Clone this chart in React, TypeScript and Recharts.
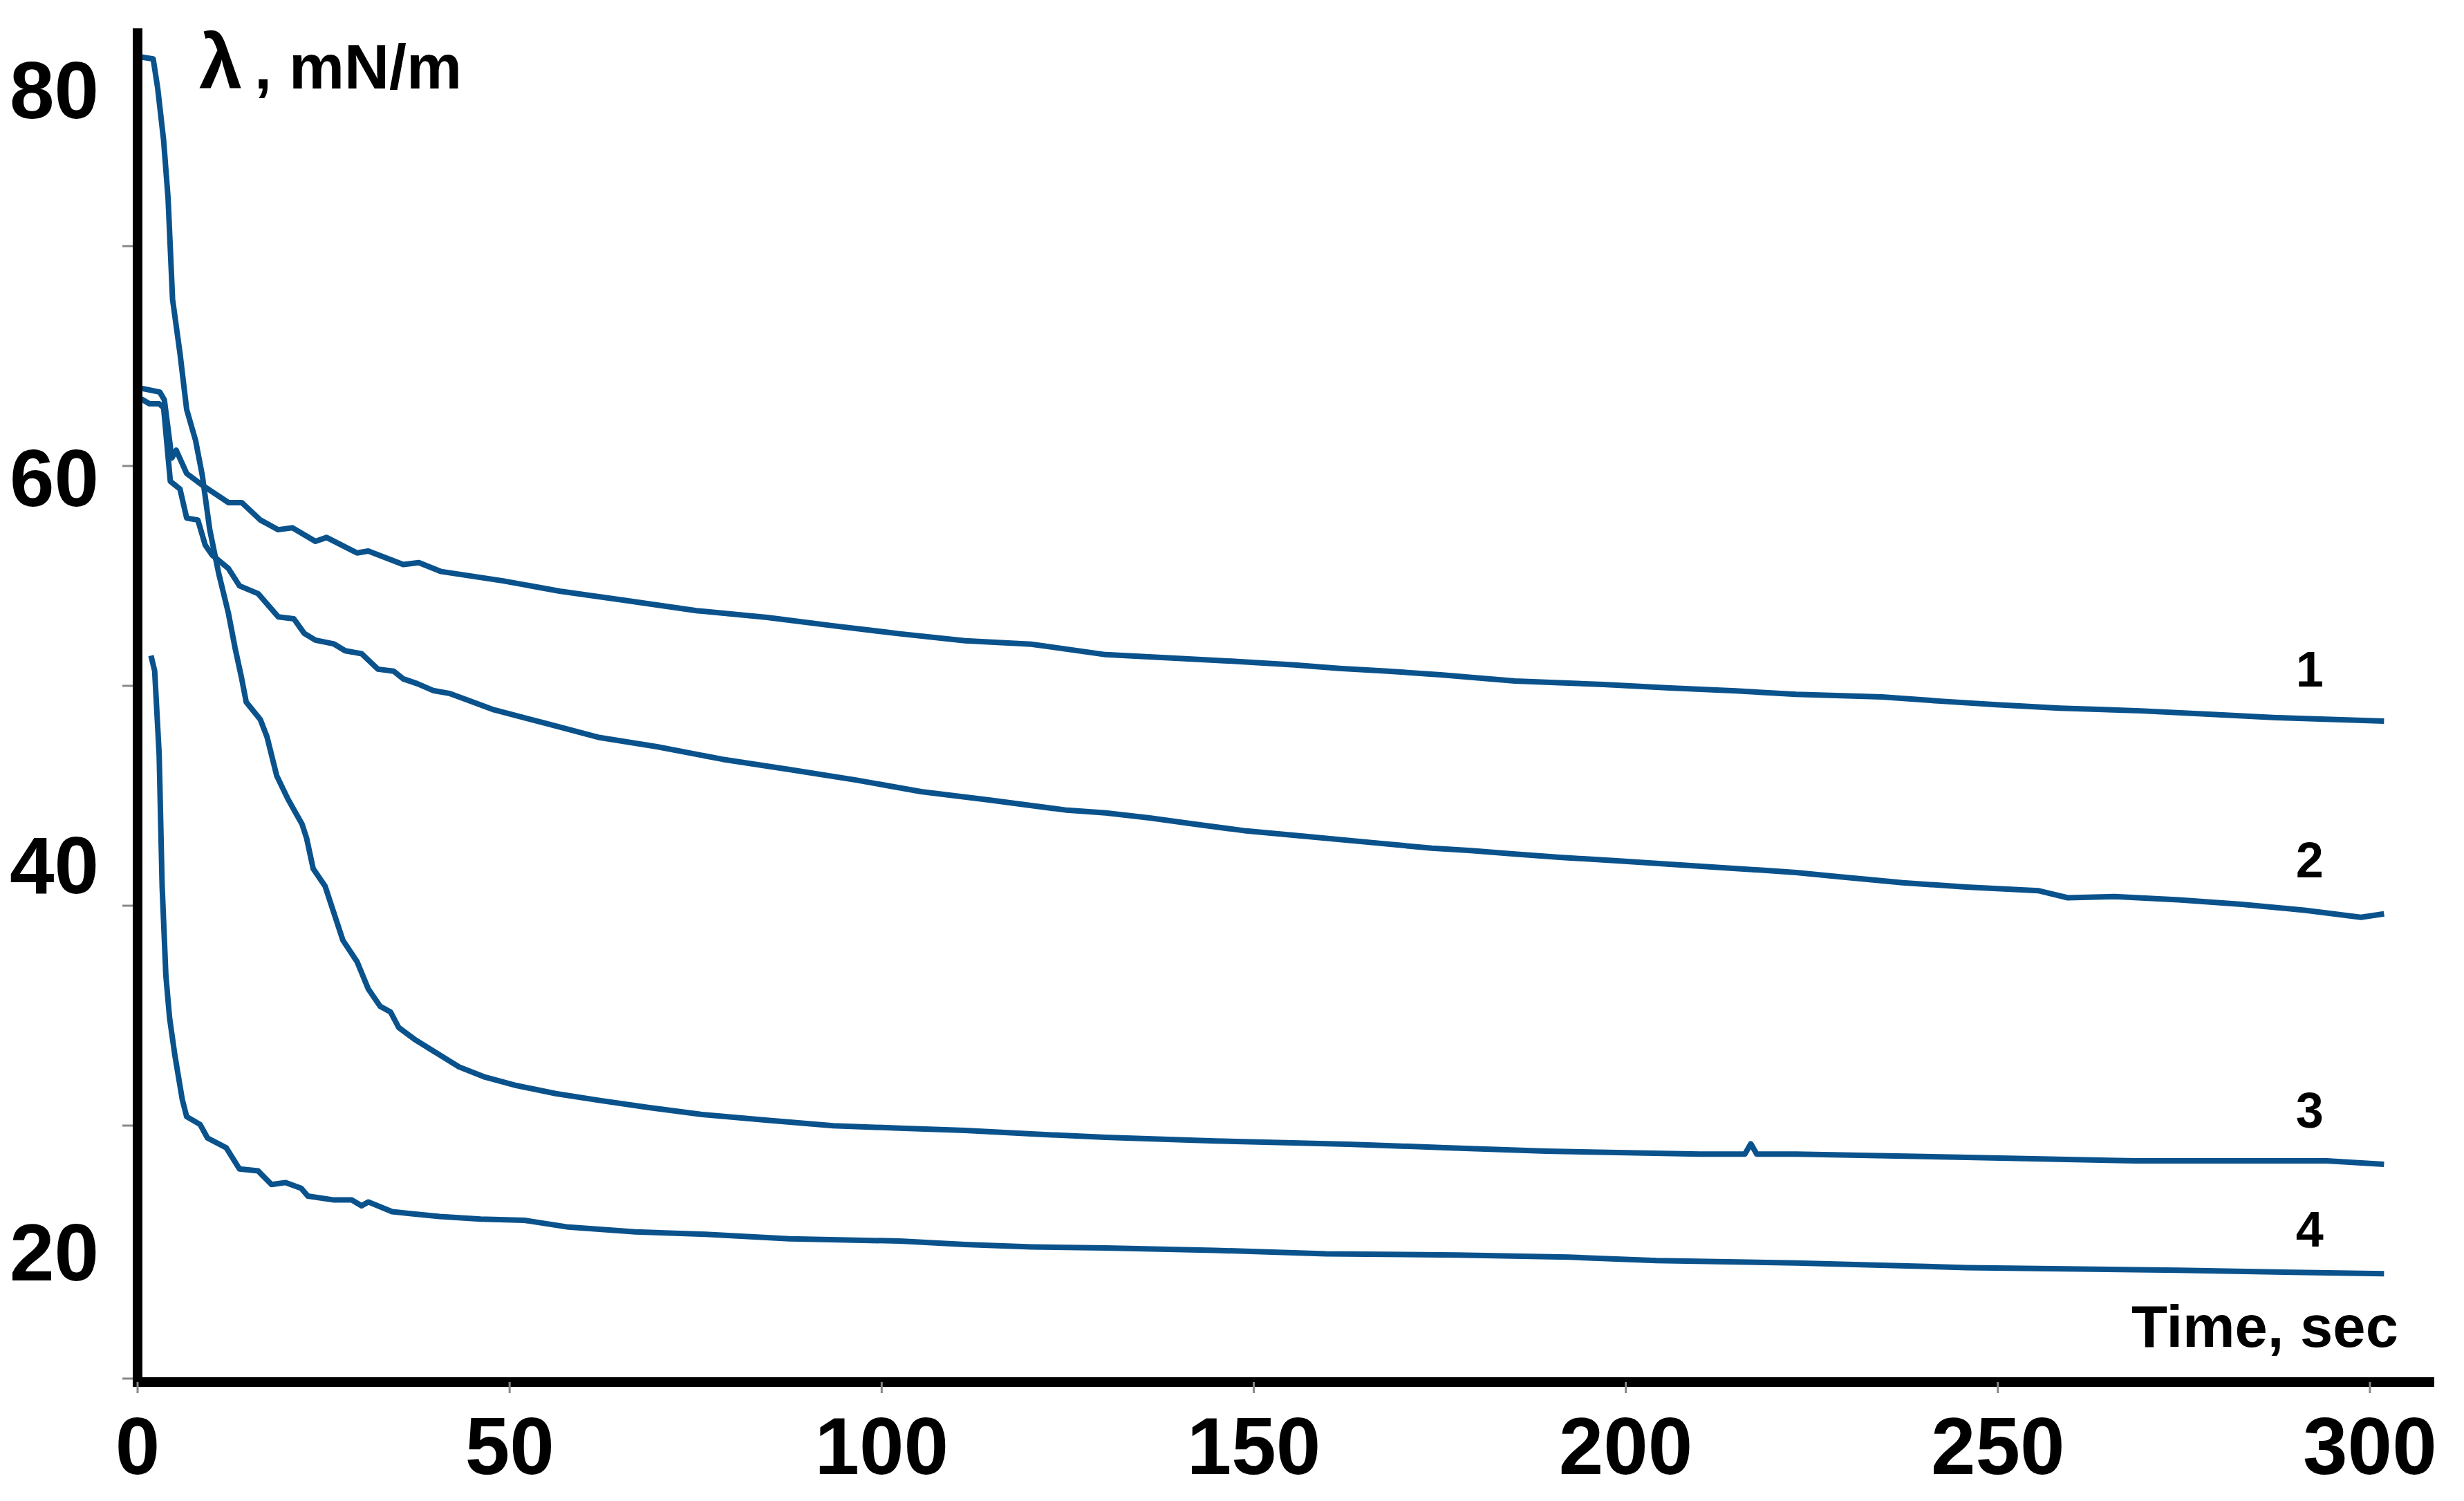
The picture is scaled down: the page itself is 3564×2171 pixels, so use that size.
import { LineChart, Line, XAxis, YAxis, ReferenceDot } from "recharts";

// time (sec) / tension (mN/m) readings, one array per curve
const curve1 = [
  [0.5, 64.6], [3.0, 64.4], [3.6, 64.0], [4.6, 61.0], [5.2, 61.4], [6.6, 60.2], [8.7, 59.6],
  [12.2, 58.7], [14, 58.7], [16.5, 57.8], [18.9, 57.3], [20.8, 57.4], [23.9, 56.7], [25.4, 56.9],
  [29.5, 56.1], [31, 56.2], [35.7, 55.5], [37.8, 55.6], [40.8, 55.14], [49.1, 54.66], [56.7, 54.13],
  [65.6, 53.65], [75.1, 53.12], [84.6, 52.77], [93.5, 52.34], [102.4, 51.93], [111.2, 51.57],
  [120.1, 51.39], [130.1, 50.85], [139, 50.68], [147.8, 50.5], [155.5, 50.32], [161.5, 50.14],
  [168, 50.0], [175.1, 49.81], [185.1, 49.49], [197, 49.31], [205.9, 49.13], [214.8, 48.98],
  [222.9, 48.8], [234.4, 48.67], [242.3, 48.45], [249.8, 48.27], [258.3, 48.09], [269.2, 47.95],
  [278.8, 47.77], [287.4, 47.6], [301.9, 47.42],
];

const curve2 = [
  [0.5, 64.05], [1.6, 63.8], [2.9, 63.8], [3.5, 63.6], [4.4, 59.8], [5.7, 59.4], [6.6, 57.9],
  [8.1, 57.8], [9.1, 56.5], [10, 56], [12.2, 55.3], [13.7, 54.4], [16.2, 54], [18.9, 52.8],
  [21, 52.7], [22.4, 51.95], [23.9, 51.6], [26.4, 51.4], [27.9, 51.05], [30.1, 50.9], [32.3, 50.1],
  [34.4, 50], [35.7, 49.6], [37.6, 49.35], [39.7, 49.0], [42, 48.84], [47.9, 48.0], [55, 47.29],
  [62.1, 46.57], [69.8, 46.1], [78.6, 45.45], [87.6, 44.92], [96.5, 44.38], [105.3, 43.78],
  [114.2, 43.36], [124.9, 42.82], [130.1, 42.68], [136, 42.42], [141.9, 42.11], [149, 41.75],
  [157.3, 41.46], [165.6, 41.16], [173.9, 40.86], [179.2, 40.74], [185.1, 40.56], [191.1, 40.39],
  [198.8, 40.21], [205.9, 40.03], [213, 39.85], [218.9, 39.71], [222.9, 39.6], [228.6, 39.39],
  [237.2, 39.08], [245.8, 38.85], [255.4, 38.67], [259.4, 38.3], [265.7, 38.36], [274.3, 38.19],
  [282.8, 37.96], [291.4, 37.65], [298.8, 37.29], [301.9, 37.47],
];

const curve3 = [
  [0.5, 81.7], [2.1, 81.6], [2.7, 80.1], [3.5, 77.4], [4.1, 74.4], [4.7, 69.2], [5.7, 66.4],
  [6.6, 63.5], [7.8, 61.9], [8.7, 60.1], [9.7, 57.3], [10.9, 55.05], [12.2, 53.0], [13.1, 51.2],
  [14.0, 49.6], [14.6, 48.4], [16.5, 47.5], [17.4, 46.6], [18.7, 44.6], [20.2, 43.4], [22.1, 42.1],
  [22.7, 41.4], [23.6, 39.8], [25.2, 38.9], [26.4, 37.5], [27.6, 36.1], [29.5, 35.0], [31, 33.6],
  [32.6, 32.7], [34, 32.4], [35.1, 31.6], [37.2, 31.0], [40.2, 30.28], [43.2, 29.57], [46.7, 29.04],
  [50.9, 28.61], [56.2, 28.19], [62.1, 27.84], [68.6, 27.48], [75.7, 27.12], [84.6, 26.82],
  [93.5, 26.53], [102.4, 26.41], [111.2, 26.29], [120.1, 26.11], [130.1, 25.93], [144.8, 25.75],
  [162.7, 25.58], [175.7, 25.4], [189.3, 25.22], [210, 25.07], [216, 25.07], [216.8, 25.6],
  [217.6, 25.07], [222.9, 25.07], [245.8, 24.9], [268.6, 24.72], [294.2, 24.72], [301.9, 24.54],
];

const curve4 = [
  [1.8, 50.8], [2.3, 50.0], [2.9, 45.7], [3.3, 38.9], [3.8, 34.3], [4.3, 32.1], [5.0, 30.2],
  [6, 27.9], [6.6, 27.0], [8.4, 26.6], [9.4, 25.9], [11.9, 25.4], [13.7, 24.3], [16.2, 24.2],
  [18, 23.5], [19.9, 23.6], [22, 23.3], [22.9, 22.9], [26.4, 22.7], [28.8, 22.7], [30.1, 22.4],
  [31, 22.6], [34.2, 22.1], [36.6, 22.0], [40.6, 21.85], [46.1, 21.71], [52, 21.65], [57.9, 21.3],
  [66.9, 21.05], [75.7, 20.94], [87.6, 20.7], [102.4, 20.58], [111.2, 20.4], [120.1, 20.28],
  [130.1, 20.22], [144.8, 20.1], [159.7, 19.92], [177.4, 19.86], [192.3, 19.75], [204.1, 19.57],
  [222.9, 19.45], [245.8, 19.21], [274.3, 19.07], [301.9, 18.89],
];

const xTicks = [0, 50, 100, 150, 200, 250, 300];
const yLabels = [20, 40, 60, 80];
const yMinorTicks = [13.48, 26.54, 37.89, 49.24, 60.59, 71.94];

// curve number labels: [text, time, tension]
const curveLabels: [string, number, number][] = [
  ["1", 291.9, 50.13],
  ["2", 291.9, 40.28],
  ["3", 291.9, 27.36],
  ["4", 291.9, 21.19],
];

const toPoints = (arr: number[][]) => arr.map(([t, v]) => ({ t, v }));
const series = [curve1, curve2, curve3, curve4].map(toPoints);

const LINE = "#0a528c";
const NARROW = "'Liberation Sans Narrow', 'Arial Narrow', 'Liberation Sans', sans-serif";
const SANS = "'Liberation Sans', Arial, sans-serif";

function YTick(props: any) {
  const { x, y, payload } = props;
  if (yLabels.includes(payload.value)) {
    return (
      <text x={x - 56} y={y} dy="0.355em" textAnchor="end" fontSize={116} fontWeight={700}
        fontFamily={NARROW} fill="#000">
        {payload.value}
      </text>
    );
  }
  return <line x1={x - 22} x2={x - 7} y1={y} y2={y} stroke="#888" strokeWidth={3} />;
}

export default function App() {
  return (
    <div style={{ position: "absolute", left: 0, top: 0, width: 3564, height: 2171, background: "#fff" }}>
      <LineChart width={3564} height={2171} margin={{ top: 41, right: 50, left: 0, bottom: 0 }}>
        <XAxis
          dataKey="t"
          type="number"
          domain={[0, 308]}
          allowDataOverflow
          ticks={xTicks}
          height={172}
          tickSize={16}
          tickMargin={35}
          tickLine={{ stroke: "#888", strokeWidth: 3 }}
          axisLine={{ stroke: "#000", strokeWidth: 14, strokeLinecap: "square" }}
          tick={{ fontSize: 116, fontWeight: 700, fill: "#000", fontFamily: NARROW }}
        />
        <YAxis
          type="number"
          domain={[13.3, 83.18]}
          allowDataOverflow
          ticks={[...yMinorTicks, ...yLabels]}
          width={199}
          tickSize={0}
          tickMargin={0}
          tickLine={false}
          axisLine={{ stroke: "#000", strokeWidth: 14 }}
          tick={<YTick />}
          interval={0}
        />
        {series.map((d, i) => (
          <Line
            key={i}
            data={d}
            dataKey="v"
            type="linear"
            stroke={LINE}
            strokeWidth={8}
            strokeLinejoin="round"
            dot={false}
            isAnimationActive={false}
          />
        ))}
        {curveLabels.map(([txt, t, v]) => (
          <ReferenceDot
            key={txt}
            x={t}
            y={v}
            r={1}
            fill="none"
            stroke="none"
            label={{ value: txt, position: "center", fontSize: 72, fontWeight: 700, fill: "#000", fontFamily: NARROW }}
          />
        ))}
      </LineChart>
      <svg width={3564} height={2171} style={{ position: "absolute", left: 0, top: 0, pointerEvents: "none" }}>
        <text x={288} y={128} fontSize={112} fontWeight={700} fontFamily={SANS} fill="#000">λ</text>
        <text x={368} y={128} fontSize={90} fontWeight={700} fontFamily={SANS} fill="#000">, mN/m</text>
        <text x={3083} y={1948} fontSize={85} fontWeight={700} fontFamily={SANS} fill="#000">Time, sec</text>
      </svg>
    </div>
  );
}
